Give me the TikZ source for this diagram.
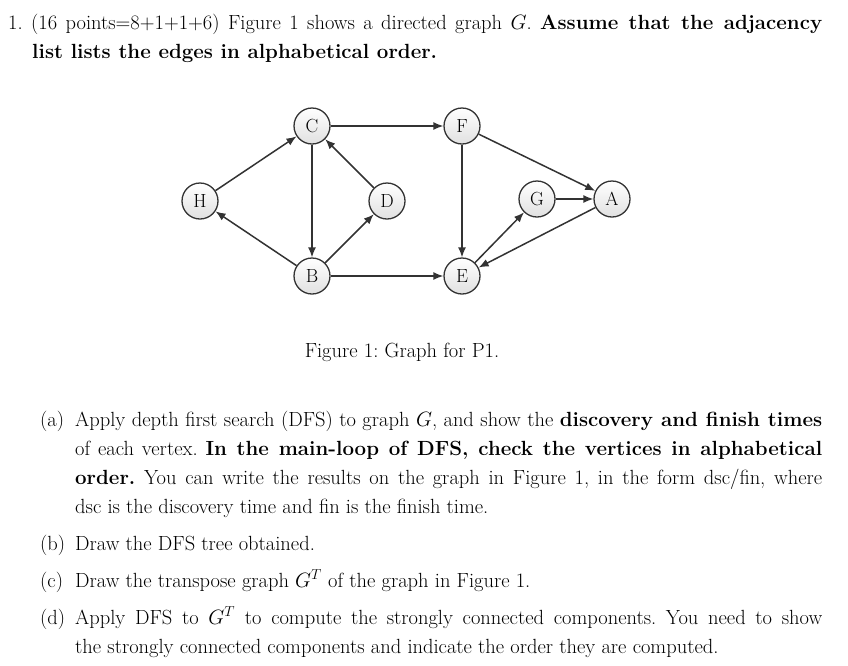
\documentclass[tikz,border=0pt]{standalone}
\usetikzlibrary{arrows.meta}
\begin{document}
\frenchspacing
\begin{tikzpicture}[x=1pt,y=-1pt,
  vtx/.style={circle,draw=black!80,line width=1.3pt,minimum size=36pt,inner sep=0pt,top color=white,bottom color=black!12,font=\fontsize{19}{19}\selectfont},
  edge/.style={-{Latex[length=10pt,width=8pt]},line width=1.5pt,black!80},
  ln/.style={anchor=base west,inner sep=0pt,font=\fontsize{20.5}{22}\selectfont}]
\useasboundingbox (0,0) rectangle (848,665);
\node[ln] (l1) at (8,29) {\makebox[814pt][s]{1. (16 points=8+1+1+6) Figure 1 shows a directed graph $G$. \textbf{Assume that the adjacency}}};
\node[ln] (l2) at (32,58) {\textbf{list lists the edges in alphabetical order.}};
\node[vtx] (C) at (312,126) {C};
\node[vtx] (F) at (462,126) {F};
\node[vtx] (H) at (200,201) {H};
\node[vtx] (D) at (387,201) {D};
\node[vtx] (G) at (537,199) {G};
\node[vtx] (A) at (612,199) {A};
\node[vtx] (B) at (312,276) {B};
\node[vtx] (E) at (462,276) {E};
\draw[edge] (H) -- (C);
\draw[edge] (C) -- (F);
\draw[edge] (C) -- (B);
\draw[edge] (D) -- (C);
\draw[edge] (B) -- (D);
\draw[edge] (B) -- (H);
\draw[edge] (B) -- (E);
\draw[edge] (F) -- (E);
\draw[edge] (F) -- (A);
\draw[edge] (E) -- (G);
\draw[edge] (G) -- (A);
\draw[edge] (A) -- (E);
\node[ln,anchor=base] (cap) at (402,357) {Figure 1: Graph for P1.};
\node[ln] (a) at (40,426) {(a)};
\node[ln] (a1) at (75,426) {\makebox[747pt][s]{Apply depth first search (DFS) to graph $G$, and show the \textbf{discovery and finish times}}};
\node[ln] (a2) at (75,455) {\makebox[747pt][s]{of each vertex. \textbf{In the main-loop of DFS, check the vertices in alphabetical}}};
\node[ln] (a3) at (75,484) {\makebox[747pt][s]{\textbf{order.} You can write the results on the graph in Figure 1, in the form dsc/fin, where}};
\node[ln] (a4) at (75,513) {dsc is the discovery time and fin is the finish time.};
\node[ln] (b) at (40,550) {(b)};
\node[ln] (b1) at (75,550) {Draw the DFS tree obtained.};
\node[ln] (c) at (40,587) {(c)};
\node[ln] (c1) at (75,587) {Draw the transpose graph $G^T$ of the graph in Figure 1.};
\node[ln] (d) at (40,624) {(d)};
\node[ln] (d1) at (75,624) {\makebox[747pt][s]{Apply DFS to $G^T$ to compute the strongly connected components. You need to show}};
\node[ln] (d2) at (75,653) {the strongly connected components and indicate the order they are computed.};
\end{tikzpicture}
\end{document}
